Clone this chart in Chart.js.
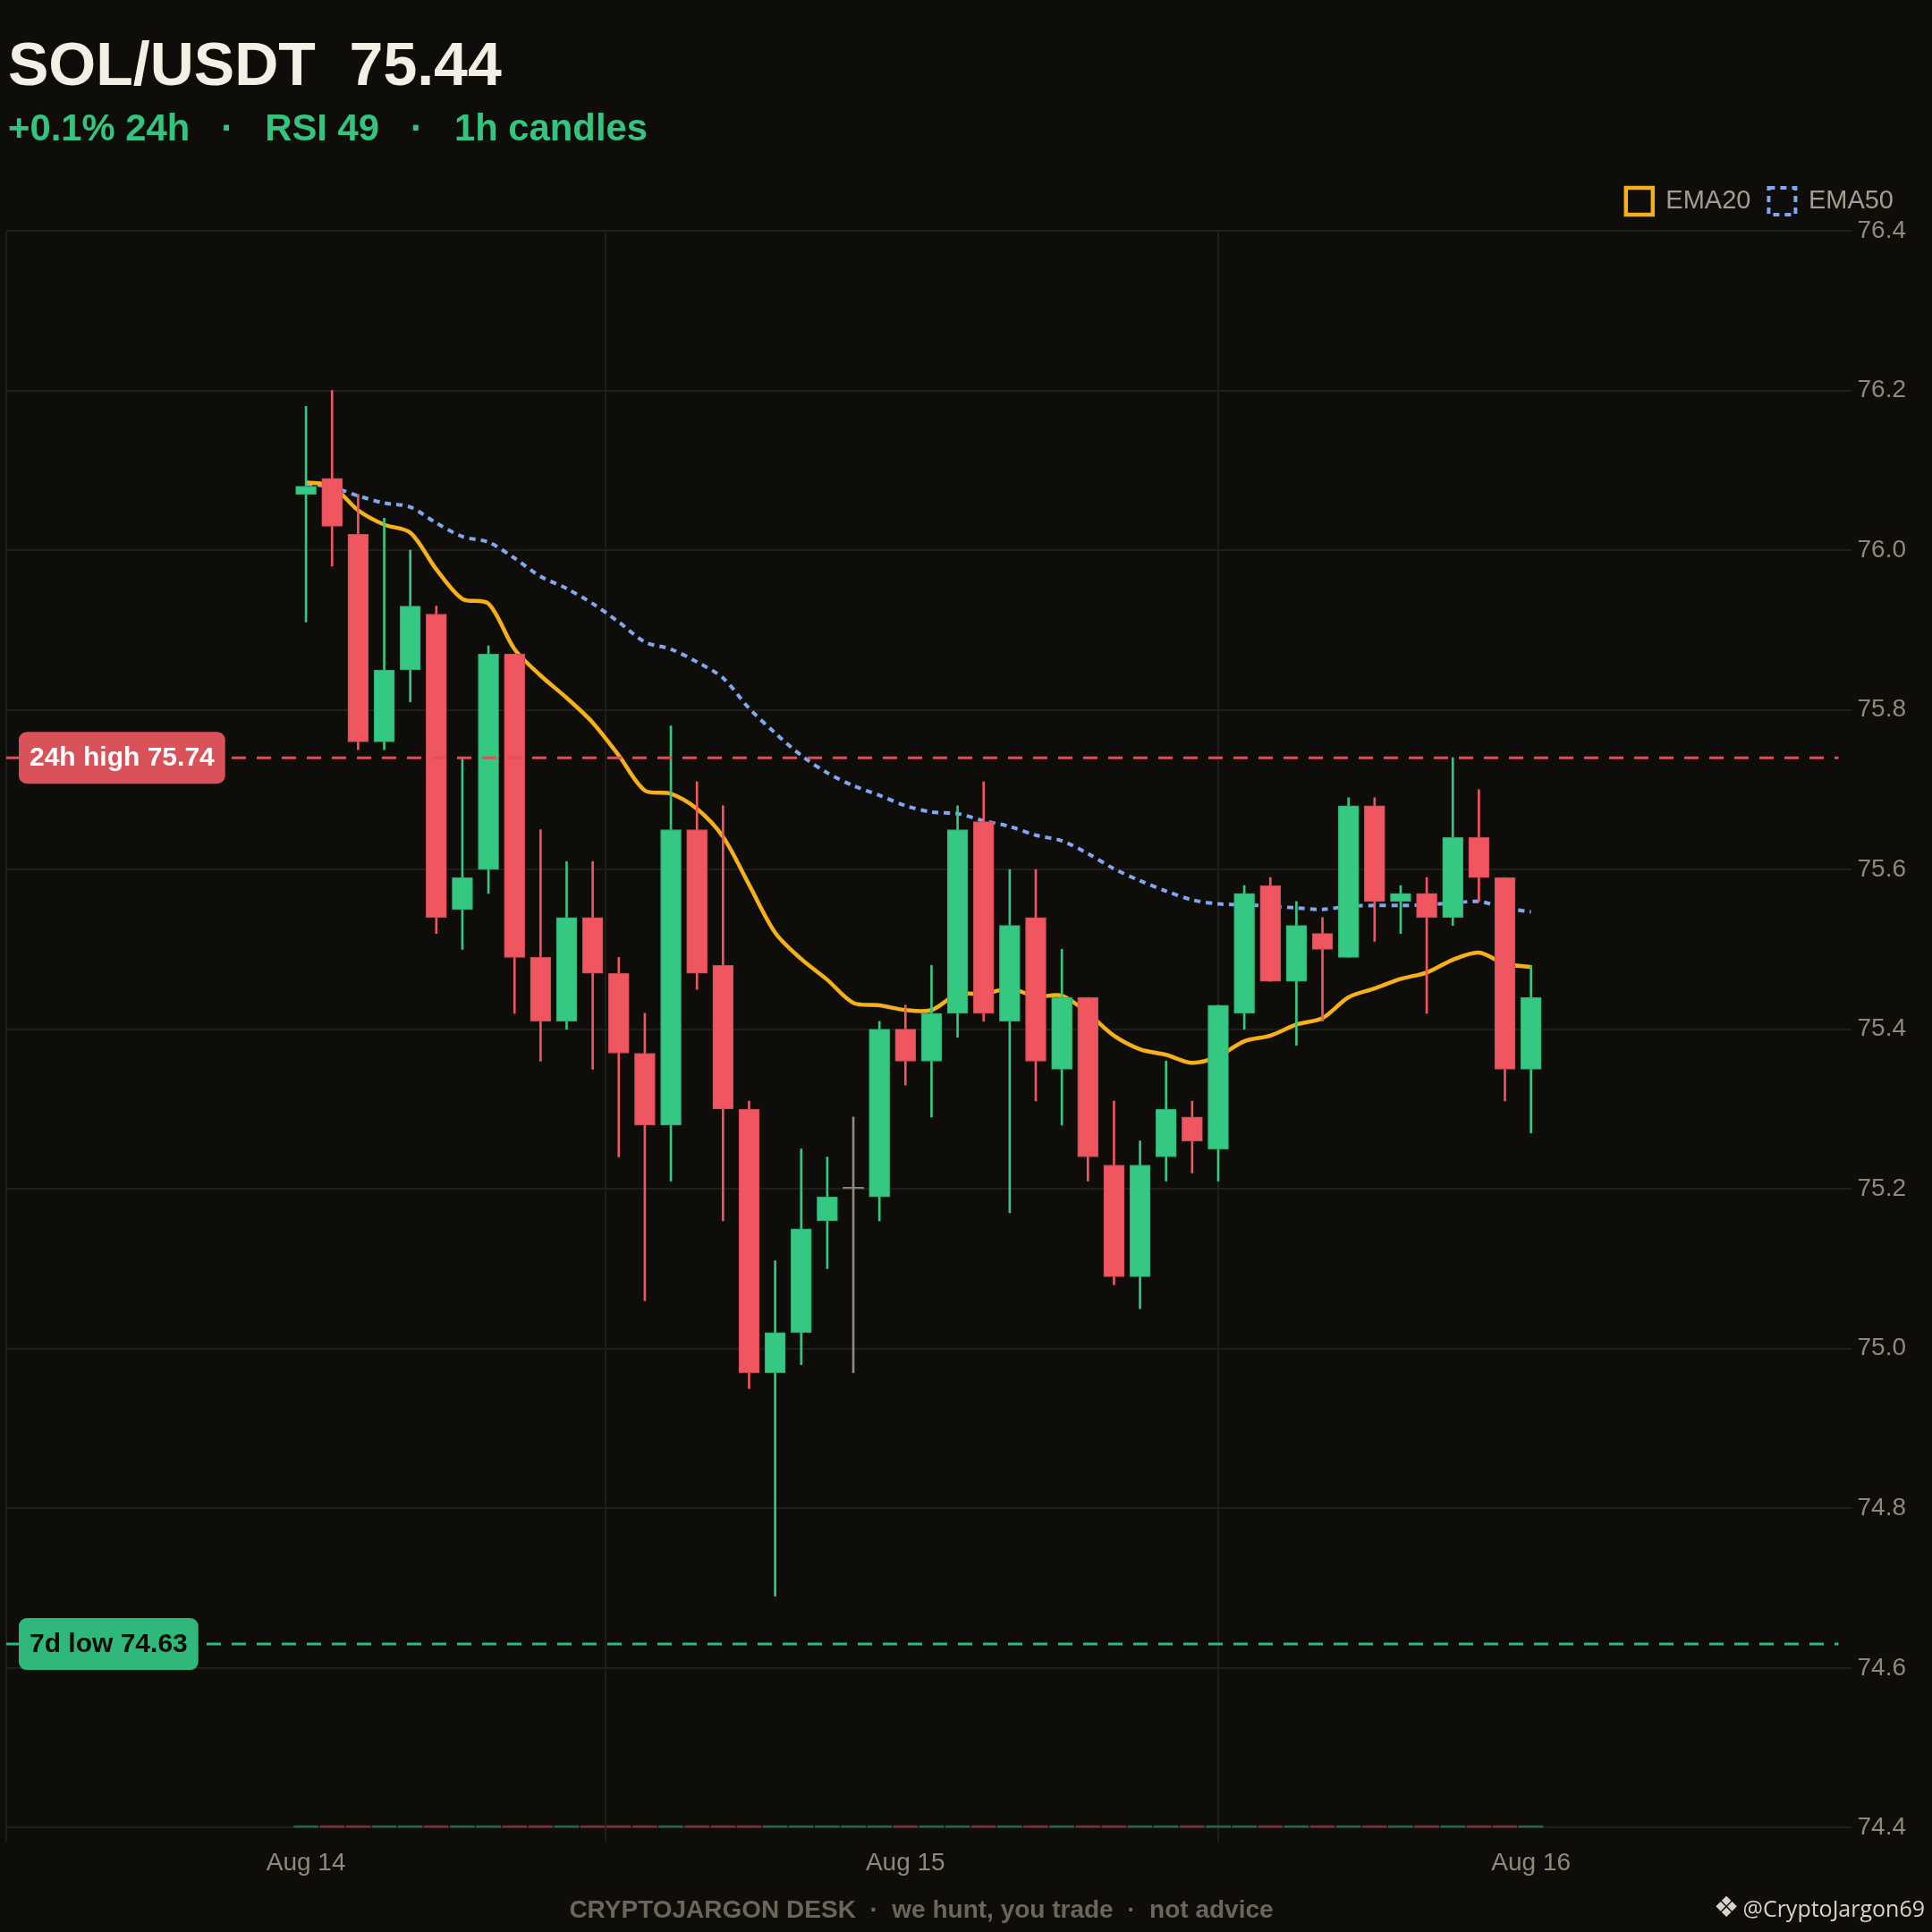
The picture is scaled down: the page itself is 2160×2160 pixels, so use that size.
<!DOCTYPE html>
<html>

<head>
    <title>SOL/USDT</title>
    <meta charset="UTF-8">
    <script src="https://cdn.jsdelivr.net/npm/chart.js@4.4.1/dist/chart.umd.min.js"></script>
    <style>
        * {
            margin: 0;
            padding: 0;
            box-sizing: border-box;
        }

        body {
            background: #0e0d0a;
            width: 2160px;
            height: 2160px;
            overflow: hidden;
            position: relative;
            font-family: "Liberation Sans", Arial, sans-serif;
        }

        canvas {
            position: absolute;
            left: 0;
            top: 0;
        }

        .title {
            position: absolute;
            left: 9px;
            top: 37px;
            font-size: 68px;
            line-height: 68px;
            font-weight: bold;
            color: #f4efe4;
            white-space: pre;
        }

        .sub {
            position: absolute;
            left: 9px;
            top: 122px;
            font-size: 41.8px;
            line-height: 41.8px;
            font-weight: bold;
            color: #35c47e;
            white-space: pre;
        }

        .sub .sep {
            padding: 0 35px;
        }

        .footer {
            position: absolute;
            left: 0;
            width: 2060px;
            top: 2121px;
            text-align: center;
            font-size: 28px;
            line-height: 28px;
            font-weight: bold;
            color: #6b655a;
            white-space: pre;
        }

        .handle {
            position: absolute;
            right: 8px;
            top: 2117px;
            font-family: "Open Sans", sans-serif;
            font-size: 25px;
            line-height: 30px;
            color: #d9d3c7;
        }

        .handle .logo {
            font-family: "DejaVu Sans", sans-serif;
            font-size: 32px;
            margin-right: 4px;
        }
    </style>
</head>

<body>
    <canvas id="chart" width="2160" height="2160"></canvas>
    <div class="title">SOL/USDT  75.44</div>
    <div class="sub">+0.1% 24h<span class="sep">·</span>RSI 49<span class="sep">·</span>1h candles</div>
    <div class="footer">CRYPTOJARGON DESK  ·  we hunt, you trade  ·  not advice</div>
    <div class="handle"><span class="logo">❖</span>@CryptoJargon69</div>

    <script>
        // hourly candles, Aug 14 -> Aug 16
        const hours = [0, 1, 2, 3, 4, 5, 6, 7, 8, 9, 10, 11, 12, 13, 14, 15, 16, 17, 18, 19, 20, 21, 22, 23,
            24, 25, 26, 27, 28, 29, 30, 31, 32, 33, 34, 35, 36, 37, 38, 39, 40, 41, 42, 43, 44, 45, 46, 47];
        const opens = [76.07, 76.09, 76.02, 75.76, 75.85, 75.92, 75.55, 75.60, 75.87, 75.49, 75.41, 75.54,
            75.47, 75.37, 75.28, 75.65, 75.48, 75.30, 74.97, 75.02, 75.16, 75.20, 75.19, 75.40,
            75.36, 75.42, 75.66, 75.41, 75.54, 75.35, 75.44, 75.23, 75.09, 75.24, 75.29, 75.25,
            75.42, 75.58, 75.46, 75.52, 75.49, 75.68, 75.56, 75.57, 75.54, 75.64, 75.59, 75.35];
        const closes = [76.08, 76.03, 75.76, 75.85, 75.93, 75.54, 75.59, 75.87, 75.49, 75.41, 75.54, 75.47,
            75.37, 75.28, 75.65, 75.47, 75.30, 74.97, 75.02, 75.15, 75.19, 75.20, 75.40, 75.36,
            75.42, 75.65, 75.42, 75.53, 75.36, 75.44, 75.24, 75.09, 75.23, 75.30, 75.26, 75.43,
            75.57, 75.46, 75.53, 75.50, 75.68, 75.56, 75.57, 75.54, 75.64, 75.59, 75.35, 75.44];
        const highs = [76.18, 76.20, 76.07, 76.04, 76.00, 75.93, 75.74, 75.88, 75.87, 75.65, 75.61, 75.61,
            75.49, 75.42, 75.78, 75.71, 75.68, 75.31, 75.11, 75.25, 75.24, 75.29, 75.41, 75.43,
            75.48, 75.68, 75.71, 75.60, 75.60, 75.50, 75.44, 75.31, 75.26, 75.36, 75.31, 75.43,
            75.58, 75.59, 75.56, 75.54, 75.69, 75.69, 75.58, 75.59, 75.74, 75.70, 75.59, 75.48];
        const lows = [75.91, 75.98, 75.75, 75.75, 75.81, 75.52, 75.50, 75.57, 75.42, 75.36, 75.40, 75.35,
            75.24, 75.06, 75.21, 75.45, 75.16, 74.95, 74.69, 74.98, 75.10, 74.97, 75.16, 75.33,
            75.29, 75.39, 75.41, 75.17, 75.31, 75.28, 75.21, 75.08, 75.05, 75.21, 75.22, 75.21,
            75.40, 75.46, 75.38, 75.41, 75.49, 75.51, 75.52, 75.42, 75.53, 75.56, 75.31, 75.27];
        // volume strip is flat and tiny at the bottom of the plot
        const volumes = [1, 1, 1, 1, 1, 1, 1, 1, 1, 1, 1, 1, 1, 1, 1, 1, 1, 1, 1, 1, 1, 1, 1, 1,
            1, 1, 1, 1, 1, 1, 1, 1, 1, 1, 1, 1, 1, 1, 1, 1, 1, 1, 1, 1, 1, 1, 1, 1];
        const ema20 = [76.085, 76.080, 76.050, 76.032, 76.022, 75.976, 75.939, 75.933,
            75.876, 75.843, 75.815, 75.784, 75.743, 75.699, 75.695, 75.676,
            75.641, 75.581, 75.521, 75.488, 75.462, 75.433, 75.430, 75.424,
            75.424, 75.444, 75.444, 75.451, 75.441, 75.442, 75.420, 75.392,
            75.375, 75.368, 75.358, 75.366, 75.385, 75.392, 75.406, 75.414,
            75.440, 75.451, 75.463, 75.471, 75.487, 75.496, 75.482, 75.478];
        const ema50 = [76.083, 76.079, 76.068, 76.059, 76.054, 76.034, 76.017, 76.010,
            75.990, 75.967, 75.952, 75.933, 75.910, 75.885, 75.876, 75.860,
            75.840, 75.802, 75.771, 75.743, 75.721, 75.705, 75.693, 75.680,
            75.672, 75.670, 75.661, 75.654, 75.643, 75.636, 75.620, 75.601,
            75.586, 75.573, 75.562, 75.557, 75.556, 75.554, 75.552, 75.550,
            75.554, 75.555, 75.555, 75.556, 75.558, 75.560, 75.552, 75.547];

        const dayTicks = [0, 23, 47];
        const dayLabels = ['Aug 14', 'Aug 15', 'Aug 16'];
        const high24h = 75.74;
        const low7d = 74.63;

        const UP = '#35c882';
        const DOWN = '#f0565f';
        const FLAT = '#8f8a7c';
        const GRID = '#1f1e1a';
        const TICK = '#8f897c';

        function candleColor(i) {
            if (closes[i] > opens[i]) return UP;
            if (closes[i] < opens[i]) return DOWN;
            return FLAT;
        }

        function edgeColor(i) {
            if (closes[i] > opens[i]) return '#2da870';
            if (closes[i] < opens[i]) return '#c94a52';
            return FLAT;
        }

        function volColor(i) {
            return closes[i] >= opens[i] ? 'rgba(53,200,130,0.45)' : 'rgba(240,86,95,0.45)';
        }

        Chart.defaults.font.family = '"Liberation Sans", Arial, sans-serif';

        // a bit more room between legend and plot
        const legendGap = {
            id: 'legendGap',
            beforeInit(chart) {
                const fit = chart.legend.fit;
                chart.legend.fit = function () {
                    fit.call(this);
                    this.height += 8;
                };
            }
        };

        // dashed reference levels with tag on the left
        const levelLines = {
            id: 'levelLines',
            afterDatasetsDraw(chart) {
                const { ctx, chartArea: a, scales: { y } } = chart;
                const levels = [
                    [high24h, '#dc5058', '#d9525a', '24h high ' + high24h.toFixed(2), '#ffffff'],
                    [low7d, '#2fb87a', '#2fb87a', '7d low ' + low7d.toFixed(2), '#0e0d0a']
                ];
                levels.forEach(([v, lineCol, boxCol, text, textCol]) => {
                    const py = y.getPixelForValue(v);
                    ctx.save();
                    ctx.strokeStyle = lineCol;
                    ctx.lineWidth = 3;
                    ctx.setLineDash([16, 12]);
                    ctx.beginPath();
                    ctx.moveTo(a.left, py);
                    ctx.lineTo(a.right, py);
                    ctx.stroke();
                    ctx.setLineDash([]);
                    ctx.font = 'bold 30px "Liberation Sans", Arial, sans-serif';
                    const w = ctx.measureText(text).width + 24;
                    ctx.fillStyle = boxCol;
                    ctx.beginPath();
                    ctx.roundRect(a.left + 14, py - 29, w, 58, 9);
                    ctx.fill();
                    ctx.fillStyle = textCol;
                    ctx.textBaseline = 'middle';
                    ctx.fillText(text, a.left + 26, py + 1);
                    ctx.restore();
                });
            }
        };

        new Chart(document.getElementById('chart').getContext('2d'), {
            type: 'bar',
            data: {
                datasets: [{
                    label: 'body',
                    data: hours.map(i => ({ x: i, y: [opens[i], closes[i]] })),
                    backgroundColor: ctx => candleColor(ctx.dataIndex),
                    borderColor: ctx => edgeColor(ctx.dataIndex),
                    borderWidth: 1,
                    borderSkipped: false,
                    grouped: false,
                    barThickness: 23,
                    minBarLength: 2,
                    order: 0
                }, {
                    label: 'wick',
                    data: hours.map(i => ({ x: i, y: [lows[i], highs[i]] })),
                    backgroundColor: ctx => candleColor(ctx.dataIndex),
                    borderWidth: 0,
                    grouped: false,
                    barThickness: 2,
                    order: 1
                }, {
                    type: 'line',
                    label: 'EMA20',
                    data: hours.map(i => ({ x: i, y: ema20[i] })),
                    borderColor: '#f6b11a',
                    backgroundColor: 'rgba(0,0,0,0)',
                    borderWidth: 4.5,
                    pointRadius: 0,
                    tension: 0.3,
                    fill: false,
                    order: 2
                }, {
                    type: 'line',
                    label: 'EMA50',
                    data: hours.map(i => ({ x: i, y: ema50[i] })),
                    borderColor: '#80a8f2',
                    backgroundColor: 'rgba(0,0,0,0)',
                    borderWidth: 4,
                    borderDash: [7, 6],
                    pointRadius: 0,
                    tension: 0.3,
                    fill: false,
                    order: 3
                }, {
                    label: 'vol',
                    data: hours.map(i => ({ x: i, y: volumes[i] })),
                    yAxisID: 'vol',
                    backgroundColor: ctx => volColor(ctx.dataIndex),
                    borderWidth: 0,
                    grouped: false,
                    barThickness: 27,
                    order: 4
                }]
            },
            options: {
                responsive: false,
                devicePixelRatio: 1,
                animation: false,
                layout: {
                    padding: { top: 190, right: 23, bottom: 53, left: 7 }
                },
                plugins: {
                    tooltip: { enabled: false },
                    legend: {
                        position: 'top',
                        align: 'end',
                        labels: {
                            color: '#a39d8f',
                            font: { size: 29 },
                            boxWidth: 30,
                            boxHeight: 30,
                            padding: 20,
                            filter: item => item.datasetIndex === 2 || item.datasetIndex === 3
                        }
                    }
                },
                scales: {
                    x: {
                        type: 'linear',
                        min: -11.5,
                        max: 58.8,
                        offset: false,
                        afterBuildTicks: scale => {
                            scale.ticks = dayTicks.map(v => ({ value: v }));
                        },
                        ticks: {
                            autoSkip: false,
                            maxRotation: 0,
                            color: TICK,
                            font: { size: 28 },
                            padding: 7,
                            callback: v => dayLabels[dayTicks.indexOf(v)]
                        },
                        grid: {
                            color: GRID,
                            lineWidth: 2,
                            offset: true,
                            tickLength: 16
                        },
                        border: { display: false }
                    },
                    y: {
                        position: 'right',
                        min: 74.4,
                        max: 76.4,
                        beginAtZero: false,
                        ticks: {
                            stepSize: 0.2,
                            color: TICK,
                            font: { size: 28 },
                            padding: 6,
                            callback: v => v.toFixed(1)
                        },
                        grid: {
                            color: GRID,
                            lineWidth: 2,
                            tickLength: 15
                        },
                        border: { display: false }
                    },
                    vol: {
                        display: false,
                        min: 0,
                        max: 800
                    }
                }
            },
            plugins: [legendGap, levelLines]
        });
    </script>
</body>

</html>
